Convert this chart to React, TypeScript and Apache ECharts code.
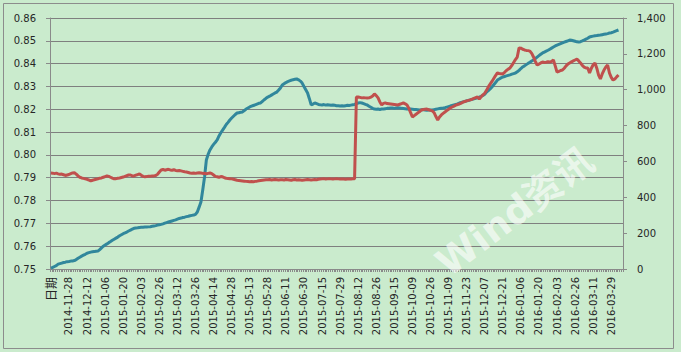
import React, { useEffect, useRef } from "react";
import * as echarts from "echarts";

// Tick labels shown on the category axis (every 10th category)
const tickLabels = [
  "日期", "2014-11-28", "2014-12-12", "2015-01-06", "2015-01-20", "2015-02-03",
  "2015-02-26", "2015-03-12", "2015-03-26", "2015-04-14", "2015-04-28", "2015-05-13",
  "2015-05-28", "2015-06-11", "2015-06-30", "2015-07-15", "2015-07-29", "2015-08-12",
  "2015-08-26", "2015-09-15", "2015-10-09", "2015-10-26", "2015-11-09", "2015-11-23",
  "2015-12-07", "2015-12-21", "2016-01-06", "2016-01-20", "2016-02-03", "2016-02-26",
  "2016-03-11", "2016-03-29",
];
const categoryCount = 317;

const leftTicks = [0.75, 0.86, 0.01];
const rightTicks = [0, 1400, 200];

// Teal series (right axis)
const tealSeries = [
  5, 9, 14, 19, 27, 30, 33, 36, 38, 41,
  42, 44, 45, 47, 52, 60, 66, 72, 77, 82,
  88, 91, 94, 96, 97, 99, 100, 108, 118, 127,
  134, 140, 147, 153, 160, 166, 172, 178, 185, 191,
  197, 201, 206, 212, 217, 222, 227, 229, 230, 232,
  233, 233, 234, 234, 235, 236, 238, 240, 242, 245,
  247, 249, 252, 256, 259, 262, 265, 268, 271, 274,
  278, 282, 284, 287, 289, 292, 294, 297, 299, 301,
  305, 318, 345, 374, 441, 513, 608, 640, 664, 681,
  695, 707, 720, 742, 760, 775, 790, 806, 818, 831,
  842, 852, 862, 870, 872, 874, 876, 884, 892, 898,
  904, 908, 912, 916, 920, 924, 926, 935, 944, 952,
  959, 964, 970, 976, 982, 987, 998, 1010, 1026, 1033,
  1040, 1045, 1049, 1053, 1056, 1058, 1060, 1055, 1048, 1037,
  1018, 1000, 982, 950, 915, 920, 926, 922, 918, 916,
  915, 917, 914, 916, 915, 913, 915, 913, 911, 910,
  909, 910, 909, 911, 913, 912, 914, 916, 918, 922,
  926, 928, 926, 922, 918, 915, 908, 902, 896, 892,
  891, 892, 890, 892, 892, 894, 896, 897, 898, 898,
  896, 898, 899, 898, 896, 895, 894, 893, 892, 892,
  891, 890, 889, 888, 887, 888, 889, 887, 886, 887,
  887, 887, 889, 891, 893, 895, 897, 898, 900, 903,
  906, 909, 912, 915, 918, 921, 926, 929, 932, 935,
  938, 940, 943, 946, 949, 952, 955, 959, 963, 968,
  975, 987, 995, 1004, 1015, 1028, 1040, 1054, 1060, 1066,
  1071, 1074, 1077, 1080, 1083, 1087, 1090, 1093, 1100, 1108,
  1118, 1127, 1133, 1140, 1147, 1153, 1160, 1166, 1174, 1182,
  1190, 1198, 1205, 1210, 1215, 1220, 1226, 1232, 1238, 1244,
  1249, 1253, 1257, 1261, 1265, 1269, 1273, 1277, 1276, 1273,
  1270, 1267, 1266, 1268, 1272, 1277, 1282, 1287, 1294, 1297,
  1299, 1301, 1302, 1304, 1305, 1307, 1309, 1311, 1313, 1316,
  1318, 1321, 1325, 1329, 1333,
];

// Red series (left axis)
const redSeries = [
  0.7921, 0.7920, 0.7918, 0.7920, 0.7917, 0.7915, 0.7916, 0.7913, 0.7910, 0.7912,
  0.7914, 0.7918, 0.7921, 0.7922, 0.7916, 0.7908, 0.7902, 0.7899, 0.7897, 0.7895,
  0.7893, 0.7890, 0.7886, 0.7889, 0.7891, 0.7893, 0.7895, 0.7898, 0.7899, 0.7902,
  0.7905, 0.7908, 0.7906, 0.7902, 0.7898, 0.7895, 0.7896, 0.7898, 0.7899, 0.7901,
  0.7903, 0.7906, 0.7909, 0.7912, 0.7912, 0.7908, 0.7908, 0.7911, 0.7914, 0.7917,
  0.7911, 0.7906, 0.7904, 0.7905, 0.7907, 0.7906, 0.7908, 0.7908, 0.7910, 0.7915,
  0.7925, 0.7934, 0.7936, 0.7933, 0.7935, 0.7937, 0.7934, 0.7933, 0.7935, 0.7932,
  0.7931, 0.7932, 0.7930, 0.7928, 0.7926, 0.7925, 0.7923, 0.7921, 0.7920, 0.7921,
  0.7919, 0.7921, 0.7922, 0.7921, 0.7919, 0.7920, 0.7917, 0.7919, 0.7921, 0.7918,
  0.7912, 0.7906, 0.7904, 0.7902, 0.7905, 0.7904, 0.7900, 0.7898, 0.7897, 0.7896,
  0.7895, 0.7893, 0.7891, 0.7889, 0.7888, 0.7887, 0.7886, 0.7885, 0.7884, 0.7883,
  0.7882, 0.7883, 0.7882, 0.7884, 0.7885, 0.7887, 0.7888, 0.7889, 0.7890, 0.7891,
  0.7891, 0.7892, 0.7890, 0.7891, 0.7892, 0.7891, 0.7890, 0.7891, 0.7891, 0.7890,
  0.7892, 0.7891, 0.7890, 0.7889, 0.7891, 0.7892, 0.7890, 0.7891, 0.7890, 0.7889,
  0.7890, 0.7891, 0.7892, 0.7891, 0.7890, 0.7891, 0.7892, 0.7891, 0.7893, 0.7894,
  0.7895, 0.7896, 0.7894, 0.7895, 0.7896, 0.7895, 0.7894, 0.7895, 0.7896, 0.7895,
  0.7894, 0.7895, 0.7894, 0.7893, 0.7894, 0.7895, 0.7894, 0.7895, 0.7895, 0.8254,
  0.8254, 0.8252, 0.8250, 0.8251, 0.8250, 0.8249, 0.8250, 0.8253, 0.8258, 0.8267,
  0.8260, 0.8250, 0.8232, 0.8219, 0.8226, 0.8228, 0.8225, 0.8224, 0.8223, 0.8222,
  0.8221, 0.8220, 0.8219, 0.8222, 0.8225, 0.8228, 0.8224, 0.8219, 0.8205, 0.8185,
  0.8166, 0.8172, 0.8178, 0.8184, 0.8190, 0.8197, 0.8199, 0.8200, 0.8201, 0.8198,
  0.8195, 0.8193, 0.8185, 0.8168, 0.8153, 0.8166, 0.8175, 0.8182, 0.8188, 0.8194,
  0.8200, 0.8206, 0.8210, 0.8214, 0.8218, 0.8221, 0.8223, 0.8227, 0.8231, 0.8234,
  0.8237, 0.8239, 0.8241, 0.8244, 0.8248, 0.8251, 0.8254, 0.8245, 0.8255, 0.8263,
  0.8270, 0.8283, 0.8298, 0.8310, 0.8322, 0.8335, 0.8348, 0.8359, 0.8357, 0.8356,
  0.8355, 0.8362, 0.8370, 0.8376, 0.8381, 0.8392, 0.8405, 0.8418, 0.8429, 0.8469,
  0.8468, 0.8463, 0.8460, 0.8458, 0.8457, 0.8455, 0.8445, 0.8429, 0.8410, 0.8394,
  0.8398, 0.8403, 0.8407, 0.8405, 0.8406, 0.8408, 0.8407, 0.8410, 0.8416, 0.8390,
  0.8363, 0.8366, 0.8370, 0.8372, 0.8380, 0.8390, 0.8398, 0.8403, 0.8408, 0.8412,
  0.8416, 0.8420, 0.8412, 0.8403, 0.8392, 0.8385, 0.8381, 0.8381, 0.8359, 0.8380,
  0.8395, 0.8403, 0.8380, 0.8350, 0.8333, 0.8355, 0.8372, 0.8385, 0.8394, 0.8359,
  0.8340, 0.8328, 0.8333, 0.8342, 0.8350,
];

function shiftWeekdays(dateStr: string, n: number): string {
  const [y, m, d] = dateStr.split("-").map(Number);
  const dt = new Date(Date.UTC(y, m - 1, d));
  const step = n >= 0 ? 1 : -1;
  let left = Math.abs(n);
  while (left > 0) {
    dt.setUTCDate(dt.getUTCDate() + step);
    const wd = dt.getUTCDay();
    if (wd !== 0 && wd !== 6) left--;
  }
  return dt.toISOString().slice(0, 10);
}

function buildCategories(): string[] {
  const out: string[] = [];
  for (let i = 0; i < categoryCount; i++) {
    const k = Math.floor(i / 10);
    const r = i % 10;
    if (r === 0 && k < tickLabels.length) {
      out.push(tickLabels[k]);
    } else if (k === 0) {
      out.push(shiftWeekdays(tickLabels[1], r - 10));
    } else {
      const base = tickLabels[Math.min(k, tickLabels.length - 1)];
      const extra = k >= tickLabels.length ? (k - tickLabels.length + 1) * 10 + r : r;
      out.push(shiftWeekdays(base, extra));
    }
  }
  return out;
}

const FONT = "'DejaVu Sans', 'Noto Sans CJK SC', sans-serif";
const AXIS_GRAY = "#8a8a8a";
const TEXT = "#262626";

export default function App() {
  const ref = useRef<HTMLDivElement>(null);
  useEffect(() => {
    document.body.style.margin = "0";
    if (!ref.current) return;
    const chart = echarts.init(ref.current, undefined, { renderer: "svg" });
    const categories = buildCategories();
    chart.setOption({
      animation: false,
      backgroundColor: "#CAEBCD",
      textStyle: { fontFamily: FONT },
      grid: { left: 50, right: 58, top: 18, bottom: 83, containLabel: false },
      graphic: [
        {
          type: "rect",
          shape: { x: 3.5, y: 3.5, width: 670, height: 345 },
          style: { fill: "none", stroke: "#8c8c8c", lineWidth: 1 },
          silent: true,
        },
        {
          type: "text",
          x: 515,
          y: 212,
          rotation: (37 * Math.PI) / 180,
          style: {
            text: "Wind资讯",
            font: "bold 38px 'DejaVu Sans', 'Noto Sans CJK SC', sans-serif",
            fill: "rgba(255,255,255,0.6)",
            align: "center",
            verticalAlign: "middle",
            shadowColor: "rgba(120,120,120,0.35)",
            shadowBlur: 3,
            shadowOffsetX: 2,
            shadowOffsetY: 2,
          },
          z: 100,
          silent: true,
        },
      ],
      xAxis: {
        type: "category",
        data: categories,
        boundaryGap: true,
        axisLine: { lineStyle: { color: AXIS_GRAY, width: 1 } },
        axisTick: { show: true, interval: 0, length: 3, lineStyle: { color: AXIS_GRAY } },
        axisLabel: {
          interval: 9,
          rotate: 90,
          margin: 8,
          fontSize: 10,
          color: TEXT,
          fontFamily: FONT,
          formatter: (v: string) => (/^\d/.test(v) ? v : `{cjk|${v}}`),
          rich: {
            cjk: { fontSize: 12, color: TEXT, fontFamily: "'Noto Sans CJK SC', sans-serif" },
          },
        },
        splitLine: { show: false },
      },
      yAxis: [
        {
          type: "value",
          min: leftTicks[0],
          max: leftTicks[1],
          interval: leftTicks[2],
          position: "left",
          axisLine: { show: true, lineStyle: { color: AXIS_GRAY } },
          axisTick: { show: true, length: 4, lineStyle: { color: AXIS_GRAY } },
          axisLabel: {
            margin: 14,
            fontSize: 10,
            color: TEXT,
            fontFamily: FONT,
            formatter: (v: number) => v.toFixed(2),
          },
          splitLine: { show: true, lineStyle: { color: "#7f7f7f", width: 1 } },
        },
        {
          type: "value",
          min: rightTicks[0],
          max: rightTicks[1],
          interval: rightTicks[2],
          position: "right",
          axisLine: { show: true, lineStyle: { color: AXIS_GRAY } },
          axisTick: { show: true, length: 4, lineStyle: { color: AXIS_GRAY } },
          axisLabel: {
            margin: 14,
            fontSize: 10,
            color: TEXT,
            fontFamily: FONT,
            formatter: (v: number) => v.toLocaleString("en-US"),
          },
          splitLine: { show: false },
        },
      ],
      series: [
        {
          type: "line",
          yAxisIndex: 1,
          data: tealSeries,
          showSymbol: false,
          symbol: "none",
          lineStyle: { color: "#31879C", width: 3 },
          itemStyle: { color: "#31879C" },
          z: 2,
        },
        {
          type: "line",
          yAxisIndex: 0,
          data: redSeries,
          showSymbol: false,
          symbol: "none",
          lineStyle: { color: "#C0504D", width: 3 },
          itemStyle: { color: "#C0504D" },
          z: 3,
        },
      ],
    });
    return () => chart.dispose();
  }, []);
  return <div ref={ref} style={{ width: 681, height: 352 }} />;
}
